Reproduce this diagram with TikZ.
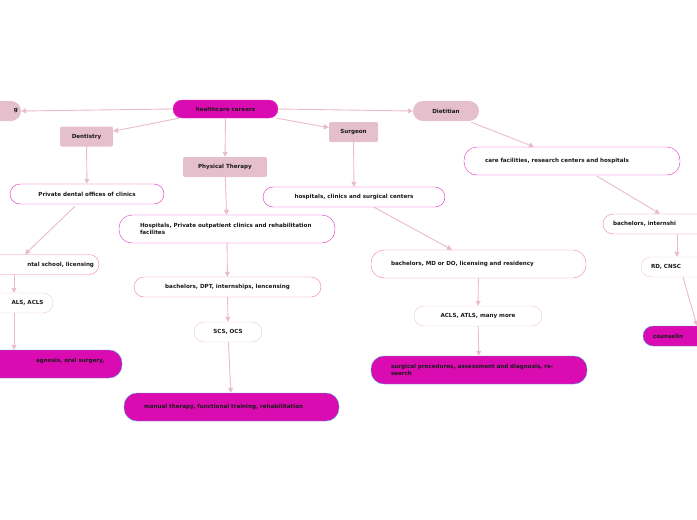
\documentclass[tikz,border=0pt]{standalone}
\usepackage{fontspec}
\setmainfont{DejaVu Sans}
\usetikzlibrary{arrows.meta}
\definecolor{mag}{HTML}{DA0BB1}
\definecolor{tpink}{HTML}{E5BFCC}
\definecolor{edge}{HTML}{E8BCCB}
\definecolor{bmag}{HTML}{E030BE}
\definecolor{bpink}{HTML}{F27FAB}
\definecolor{blight}{HTML}{EDC9D4}
\definecolor{bblue}{HTML}{45A6E8}
\tikzset{
 base/.style={font=\fontsize{5.6}{6.4}\selectfont\bfseries, inner sep=0pt, text=black!90},
 root/.style={base, fill=mag, draw=bmag, rounded corners=9pt, minimum height=18pt},
 title/.style={base, fill=tpink, rounded corners=2pt, minimum height=20pt},
 pill/.style={base, fill=tpink, rounded corners=10pt, minimum height=20pt},
 l1/.style={base, fill=white, draw=bmag, rounded corners=10pt, minimum height=20pt},
 l2/.style={base, fill=white, draw=bpink, rounded corners=10pt, minimum height=20pt},
 l3/.style={base, fill=white, draw=blight, rounded corners=10pt, minimum height=20pt},
 big/.style={rounded corners=13pt, minimum height=28pt},
 leaf/.style={base, fill=mag, draw=bblue, rounded corners=13pt, minimum height=28pt},
 lt/.style={text width=#1, align=left},
 e/.style={draw=edge, line width=0.9pt, -{Triangle[length=5pt,width=5pt]}},
}
\begin{document}
\begin{tikzpicture}[x=1pt,y=-1pt]
\useasboundingbox (0,0) rectangle (697,520);
\clip (0,0) rectangle (697,520);
\node[root, minimum width=105pt] (hc) at (225.5,109) {healthcare careers};
\node[pill, minimum width=60pt, lt=54pt, align=right] (ng) at (-9,111) {g};
\node[title, minimum width=53pt] (den) at (86.5,136.5) {Dentistry};
\node[title, minimum width=84pt] (pt) at (225,167) {Physical Therapy};
\node[title, minimum width=49pt] (sur) at (353.5,132) {Surgeon};
\node[pill, minimum width=66pt] (die) at (446,111) {Dietitian};
\node[l1, minimum width=154pt] (pdo) at (87,194) {Private dental offices of clinics};
\node[l1, minimum width=182pt] (hcs) at (354,197) {hospitals, clinics and surgical centers};
\node[l1, big, minimum width=216pt, lt=174pt] (hpo) at (227,229) {Hospitals, Private outpatient clinics and rehabilitation facilites};
\node[l1, big, minimum width=216pt, lt=174pt] (cf) at (572,161) {care facilities, research centers and hospitals};
\node[l2, minimum width=160pt, lt=150pt, align=right] (ds) at (19,264.5) {ntal school, licensing};
\node[l3, minimum width=100pt, lt=81pt, align=right] (als) at (3,303) {ALS, ACLS};
\node[leaf, minimum width=180pt, lt=145pt, align=right] (dg) at (32,364) {agnosis, oral surgery,\\ \mbox{}};
\node[l2, minimum width=187pt] (dpt) at (227.5,287) {bachelors, DPT, internships, lencensing};
\node[l3, minimum width=68pt] (scs) at (228,332) {SCS, OCS};
\node[leaf, minimum width=215pt, lt=175pt] (mt) at (231.5,407) {manual therapy, functional training, rehabilitation};
\node[l2, big, minimum width=215pt, lt=175pt] (md) at (478.5,264) {bachelors, MD or DO, licensing and residency};
\node[l3, minimum width=128pt] (acl) at (478,316) {ACLS, ATLS, many more};
\node[leaf, minimum width=216pt, lt=176pt] (sp) at (479,370) {surgical procedures, assessment and diagnosis, research};
\node[l2, minimum width=160pt, lt=140pt] (bi) at (683,224) {bachelors, internshi};
\node[l3, minimum width=120pt, lt=100pt] (rd) at (701,267) {RD, CNSC};
\node[leaf, minimum width=120pt, minimum height=20pt, rounded corners=10pt, lt=100pt] (co) at (703,336) {counselin};
\draw[e] (hc.west) -- (ng.east);
\draw[e] (hc) -- (den);
\draw[e] (hc) -- (pt);
\draw[e] (hc) -- (sur);
\draw[e] (hc.east) -- (die.west);
\draw[e] (den) -- (pdo);
\draw[e] (pdo.south)+(-12,2) coordinate (a1) (a1) -- (ds.north -| 25,0);
\draw[e] (ds.south -| 14,0) -- (als.north -| 14,0);
\draw[e] (als.south -| 14,0) -- (dg.north -| 14,0);
\draw[e] (pt) -- (hpo);
\draw[e] (hpo) -- (dpt);
\draw[e] (dpt) -- (scs);
\draw[e] (scs) -- (mt);
\draw[e] (sur) -- (hcs);
\draw[e] (hcs.south)+(20,0) coordinate (a2) (a2) -- (md.north -| 452,0);
\draw[e] (md) -- (acl);
\draw[e] (acl) -- (sp);
\draw[e] (die.south east)+(-8,1) coordinate (a3) (a3) -- (cf.north -| 534,0);
\draw[e] (cf.south)+(25,1) coordinate (a4) (a4) -- (bi.north -| 660,0);
\draw[e] (bi.south -| 677,0) -- (rd.north -| 677,0);
\draw[e] (rd.south -| 683,0) -- (co.north -| 697,0);
\end{tikzpicture}
\end{document}
